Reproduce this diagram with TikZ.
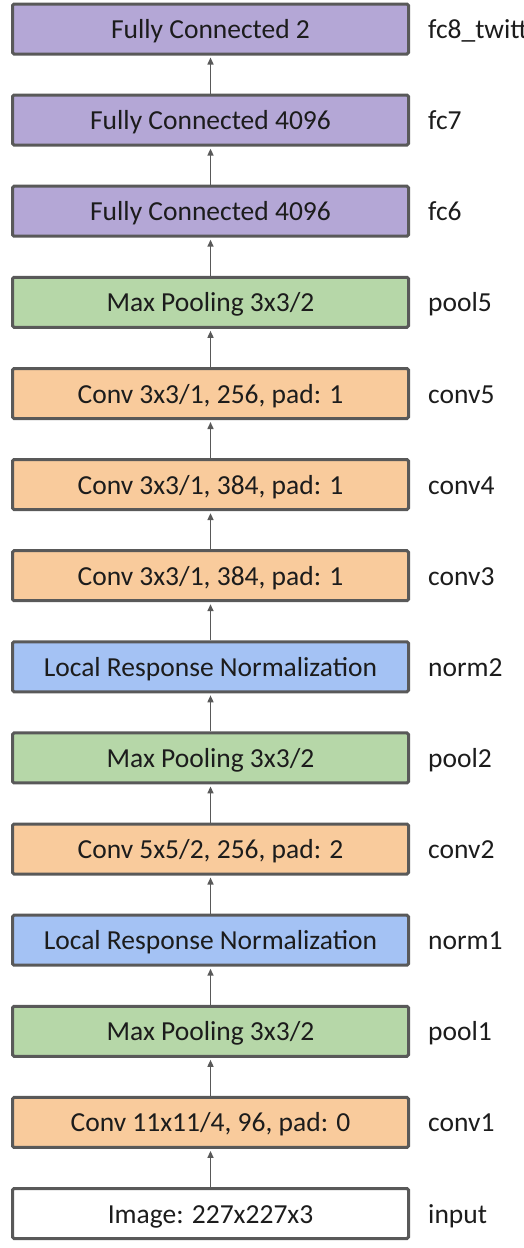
\documentclass[tikz,border=0pt]{standalone}
\usepackage{fontspec}
\setmainfont{Carlito}
\usetikzlibrary{arrows.meta}
\definecolor{bordergray}{HTML}{595959}
\definecolor{fcpurple}{HTML}{B4A7D6}
\definecolor{poolgreen}{HTML}{B6D7A8}
\definecolor{convorange}{HTML}{F9CB9C}
\definecolor{normblue}{HTML}{A4C2F4}
\definecolor{txt}{HTML}{1C1C1C}
\tikzset{
  layer/.style={draw=bordergray, line width=3pt, rounded corners=1.5pt,
    minimum width=396pt, minimum height=50pt, inner sep=0pt,
    text height=21pt, text depth=2pt,
    font=\fontsize{27.5pt}{32pt}\selectfont, text=txt},
  fcbox/.style={layer, fill=fcpurple},
  poolbox/.style={layer, fill=poolgreen},
  convbox/.style={layer, fill=convorange},
  normbox/.style={layer, fill=normblue},
  inbox/.style={layer, fill=white},
  lbl/.style={anchor=west, inner sep=0pt, text height=21pt, text depth=2pt,
    font=\fontsize{27.5pt}{32pt}\selectfont, text=txt},
  arr/.style={draw=bordergray, line width=1.5pt, -{Triangle[width=6pt,length=7pt]}, shorten >=2pt}
}
\begin{document}
\begin{tikzpicture}[x=1pt,y=-1pt]
\useasboundingbox (0,0) rectangle (524,1248);
\def\bx{210.5}
\def\lx{428}
\node[fcbox]   (fc8)   at (\bx, 29)     {Fully Connected 2};
\node[fcbox]   (fc7)   at (\bx, 120.1)  {Fully Connected 4096};
\node[fcbox]   (fc6)   at (\bx, 211.2)  {Fully Connected 4096};
\node[poolbox] (pool5) at (\bx, 302.3)  {Max Pooling 3x3/2};
\node[convbox] (conv5) at (\bx, 393.5)  {Conv 3x3/1, 256, pad: 1};
\node[convbox] (conv4) at (\bx, 484.6)  {Conv 3x3/1, 384, pad: 1};
\node[convbox] (conv3) at (\bx, 575.7)  {Conv 3x3/1, 384, pad: 1};
\node[normbox] (norm2) at (\bx, 666.8)  {Local Response Normalization};
\node[poolbox] (pool2) at (\bx, 757.9)  {Max Pooling 3x3/2};
\node[convbox] (conv2) at (\bx, 849.0)  {Conv 5x5/2, 256, pad: 2};
\node[normbox] (norm1) at (\bx, 940.2)  {Local Response Normalization};
\node[poolbox] (pool1) at (\bx, 1031.3) {Max Pooling 3x3/2};
\node[convbox] (conv1) at (\bx, 1122.4) {Conv 11x11/4, 96, pad: 0};
\node[inbox]   (input) at (\bx, 1213.5) {Image: 227x227x3};

\foreach \n/\t in {fc8/fc8\_twitter, fc7/fc7, fc6/fc6, pool5/pool5, conv5/conv5, conv4/conv4, conv3/conv3, norm2/norm2, pool2/pool2, conv2/conv2, norm1/norm1, pool1/pool1, conv1/conv1, input/input}
  \node[lbl] (l-\n) at (\lx, 0 |- \n) {\t};

\foreach \a/\b in {input/conv1, conv1/pool1, pool1/norm1, norm1/conv2, conv2/pool2, pool2/norm2, norm2/conv3, conv3/conv4, conv4/conv5, conv5/pool5, pool5/fc6, fc6/fc7, fc7/fc8}
  \draw[arr] (\a.north) -- (\b.south);
\end{tikzpicture}
\end{document}
